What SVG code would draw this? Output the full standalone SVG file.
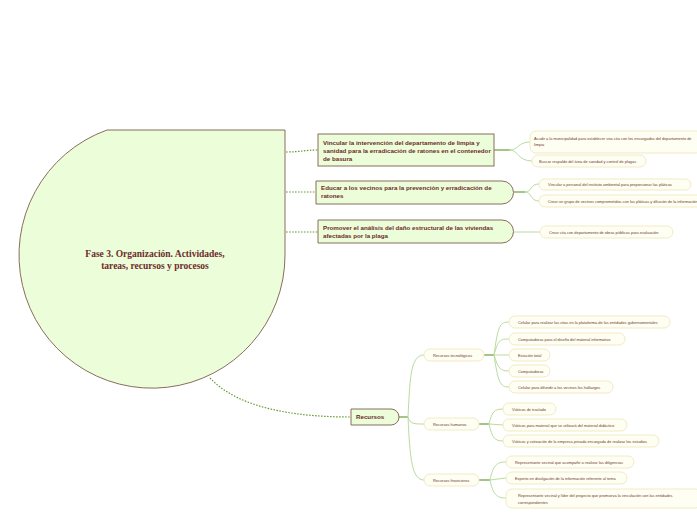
<svg xmlns="http://www.w3.org/2000/svg" width="697" height="520" viewBox="0 0 697 520">
<style>
.br{fill:#ebfdd9;stroke:#8a6d5c;stroke-width:1}
.lf{fill:#fffef3;stroke:#f1ebc4;stroke-width:1}
.bt{font-family:"Liberation Sans",sans-serif;font-weight:bold;font-size:6.2px;fill:#6e2a2a}
.lt{font-family:"Liberation Sans",sans-serif;font-size:3.9px;fill:#6e3a2a}
.dot{fill:none;stroke:#5e9a2c;stroke-width:1.2;stroke-dasharray:1.5 1.5}
.c{fill:none;stroke:#b8dc9e;stroke-width:1}
.d{fill:none;stroke:#6a9e3a;stroke-width:1.2}
</style>
<rect width="697" height="520" fill="#ffffff"/>
<g id="connectors">
<path class="dot" d="M286 152 C300 152 305 150 318 150"/>
<path class="dot" d="M286 192 C300 192 305 192 316 192"/>
<path class="dot" d="M286 232 C300 232 305 232 318 232"/>
<path class="dot" d="M210 378 C240 410 300 417 351 417"/>
<path class="d" d="M494 150 L510 150"/>
<path class="c" d="M510 150 C518 150 518 142 530 142 M510 150 C518 150 518 161 532 161"/>
<path class="d" d="M514 192 L525 192"/>
<path class="c" d="M525 192 C532 192 530 184 539 184 M525 192 C532 192 530 201 539 201"/>
<path class="c" d="M514 232 L540 232"/>
<path class="d" d="M398 417 L408 417"/>
<path class="c" d="M408 417 C410 380 410 355 424 355 M408 417 C410 424 414 424 424 424 M408 417 C410 460 412 480 424 480"/>
<path class="d" d="M484 355 L494 355"/>
<path class="c" d="M494 355 C498 325 500 322 509 322 M494 355 C498 340 500 339 509 339 M494 355 L509 355 M494 355 C498 368 500 371 509 371 M494 355 C498 382 500 387 509 387"/>
<path class="d" d="M479 424 L489 424"/>
<path class="c" d="M489 424 C492 412 494 409 503 409 M489 424 L503 425 M489 424 C492 437 494 441 503 441"/>
<path class="d" d="M478 480 L490 480"/>
<path class="c" d="M490 480 C493 466 496 462 506 462 M490 480 L506 478 M490 480 C493 494 496 498 506 498"/>
</g>
<g id="central">
<path d="M107 130 L285 130 L285 255 A133 133 0 1 1 107 130 Z" fill="#ebfdd9" stroke="#8a6d5c" stroke-width="1"/>
<text x="155" y="257" text-anchor="middle" font-family="Liberation Serif,serif" font-weight="bold" font-size="9.5" fill="#6e2a2a">Fase 3. Organización. Actividades,</text>
<text x="155" y="269" text-anchor="middle" font-family="Liberation Serif,serif" font-weight="bold" font-size="9.5" fill="#6e2a2a">tareas, recursos y procesos</text>
</g>
<g id="b1"><rect class="br" x="318" y="134" width="176" height="32"/>
<text class="bt" x="323" y="145">Vincular la intervención del departamento de limpia y</text>
<text class="bt" x="323" y="153">sanidad para la erradicación de ratones en el contenedor</text>
<text class="bt" x="323" y="161">de basura</text></g>
<g id="b2"><path class="br" d="M316 181 H502 A11.5 11.5 0 0 1 502 204 H316 Z"/>
<text class="bt" x="321" y="190">Educar a los vecinos para la prevención y erradicación de</text>
<text class="bt" x="321" y="198">ratones</text></g>
<g id="b3"><path class="br" d="M318 220 H502 A11.5 11.5 0 0 1 502 243 H318 Z"/>
<text class="bt" x="323" y="230">Promover el análisis del daño estructural de las viviendas</text>
<text class="bt" x="323" y="238">afectadas por la plaga</text></g>
<g id="recursos"><path class="br" d="M351 409 H391 A8 8 0 0 1 391 425 H351 Z"/>
<text class="bt" x="356" y="419">Recursos</text></g>
<g id="l1"><rect class="lf" x="530" y="131" width="172" height="22" rx="6"/>
<text class="lt" x="534" y="140">Acudir a la municipalidad para establecer una cita con los encargados del departamento de</text>
<text class="lt" x="534" y="146">limpia</text></g>
<g id="l2"><rect class="lf" x="532" y="155" width="114" height="12" rx="6"/><text class="lt" x="539" y="162.5">Buscar respaldo del área de sanidad y control de plagas</text></g>
<g id="l3"><rect class="lf" x="539" y="179" width="152" height="11" rx="5.5"/><text class="lt" x="548" y="186">Vincular a personal del instituto ambiental para proporcionar las pláticas</text></g>
<g id="l4"><rect class="lf" x="539" y="195" width="170" height="12" rx="6"/><text class="lt" x="548" y="202.5">Crear un grupo de vecinos comprometidos con las pláticas y difusión de la información</text></g>
<g id="l5"><rect class="lf" x="540" y="226" width="133" height="12" rx="6"/><text class="lt" x="549" y="233.5">Crear cita con departamento de obras públicas para evaluación</text></g>
<g id="rt"><rect class="lf" x="424" y="349" width="60" height="12" rx="6"/><text class="lt" x="433" y="356.5">Recursos tecnológicos</text></g>
<g id="t1"><rect class="lf" x="509" y="316" width="161" height="12" rx="6"/><text class="lt" x="518" y="323.5">Celular para realizar las citas en la plataforma de las entidades gubernamentales</text></g>
<g id="t2"><rect class="lf" x="509" y="333" width="116" height="12" rx="6"/><text class="lt" x="518" y="340.5">Computadoras para el diseño del material informativo</text></g>
<g id="t3"><rect class="lf" x="509" y="349" width="41" height="12" rx="6"/><text class="lt" x="518" y="356.5">Estación total</text></g>
<g id="t4"><rect class="lf" x="509" y="365" width="41" height="12" rx="6"/><text class="lt" x="518" y="372.5">Computadoras</text></g>
<g id="t5"><rect class="lf" x="509" y="381" width="104" height="12" rx="6"/><text class="lt" x="518" y="388.5">Celular para difundir a los vecinos los hallazgos</text></g>
<g id="rh"><rect class="lf" x="424" y="418" width="55" height="12" rx="6"/><text class="lt" x="433" y="425.5">Recursos humanos</text></g>
<g id="h1"><rect class="lf" x="503" y="403" width="53" height="12" rx="6"/><text class="lt" x="512" y="410.5">Viáticos de traslado</text></g>
<g id="h2"><rect class="lf" x="503" y="419" width="124" height="12" rx="6"/><text class="lt" x="512" y="426.5">Viáticos para material que se utilizará del material didáctico</text></g>
<g id="h3"><rect class="lf" x="503" y="435" width="156" height="12" rx="6"/><text class="lt" x="512" y="442.5">Viáticos y cotización de la empresa privada encargada de realizar los estudios</text></g>
<g id="rf"><rect class="lf" x="424" y="474" width="55" height="12" rx="6"/><text class="lt" x="433" y="481.5">Recursos financieros</text></g>
<g id="f1"><rect class="lf" x="506" y="456" width="128" height="12" rx="6"/><text class="lt" x="515" y="463.5">Representante vecinal que acompañe a realizar las diligencias</text></g>
<g id="f2"><rect class="lf" x="506" y="472" width="121" height="12" rx="6"/><text class="lt" x="515" y="479.5">Experto en divulgación de la información referente al tema</text></g>
<g id="f3"><rect class="lf" x="506" y="489" width="195" height="19" rx="6"/>
<text class="lt" x="518" y="497">Representante vecinal y líder del proyecto que promueva la vinculación con las entidades</text>
<text class="lt" x="518" y="503.5">correspondientes</text></g>
</svg>
